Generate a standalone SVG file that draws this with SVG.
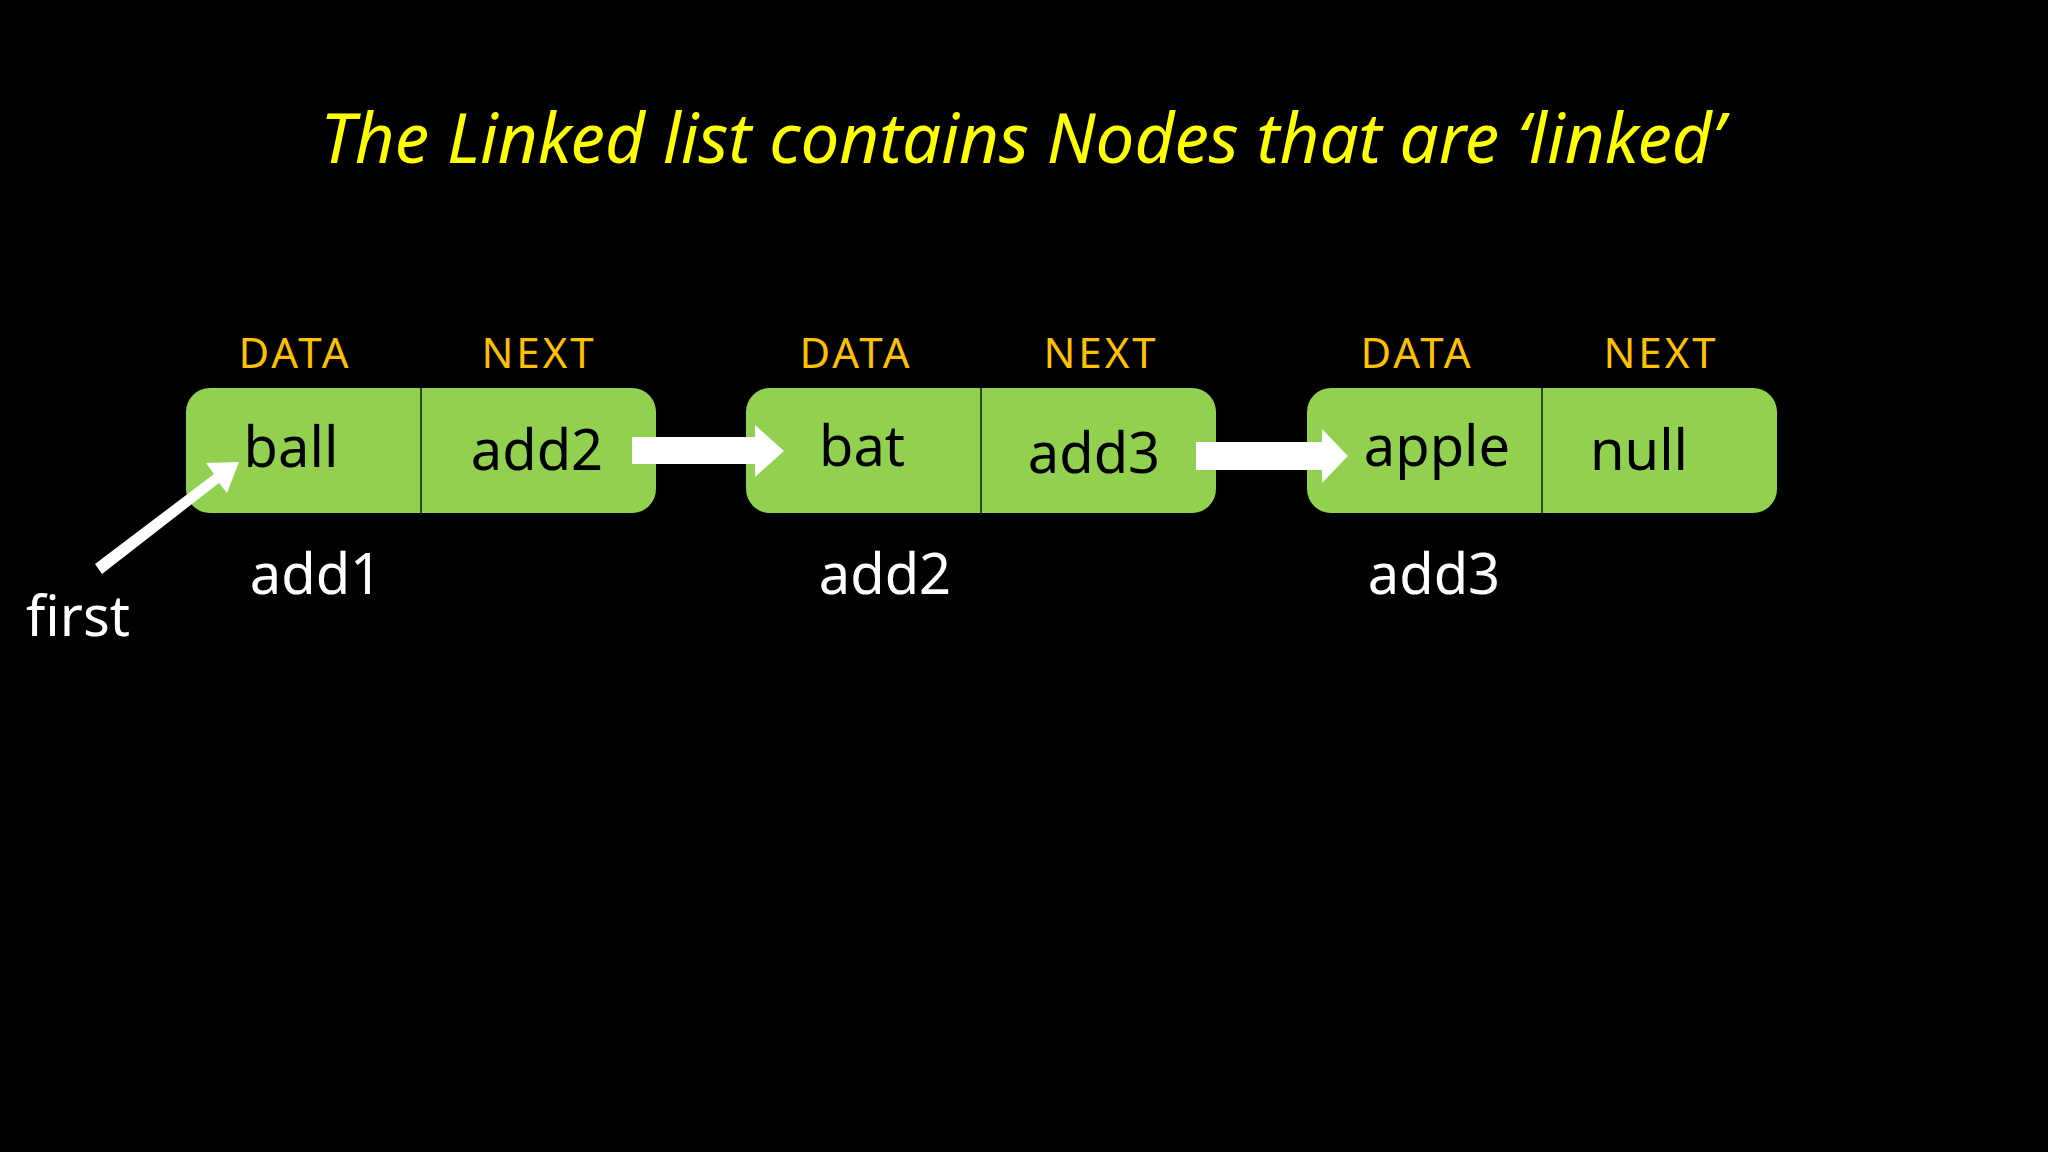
<svg xmlns="http://www.w3.org/2000/svg" width="2048" height="1152" viewBox="0 0 2048 1152">
<style>
.title{font-family:"Noto Sans",sans-serif;font-style:italic;font-size:69px;fill:#FFFF00;text-anchor:middle}
.hdr{font-family:"Noto Sans",sans-serif;font-size:42px;letter-spacing:3px;fill:#FFC000;text-anchor:middle}
.val{font-family:"Noto Sans",sans-serif;font-size:56px;fill:#000000;text-anchor:middle}
.addr{font-family:"Noto Sans",sans-serif;font-size:56px;fill:#FFFFFF;text-anchor:middle}
.box{fill:#92D050}
.div{stroke:#2E4A14;stroke-width:2}
.arrow{fill:#FFFFFF}
</style>
<rect width="2048" height="1152" fill="#000000"/>
<text class="title" x="1022" y="163">The Linked list contains Nodes that are ‘linked’</text>

<g id="node1">
<text class="hdr" x="295" y="368">DATA</text>
<text class="hdr" x="539" y="368">NEXT</text>
<rect class="box" x="186" y="388" width="470" height="125" rx="24"/>
<line class="div" x1="421" y1="388" x2="421" y2="513"/>
<text class="val" x="291" y="467">ball</text>
<text class="val" x="537" y="470">add2</text>
<text class="addr" x="316" y="594">add1</text>
</g>

<g id="node2">
<text class="hdr" x="856" y="368">DATA</text>
<text class="hdr" x="1101" y="368">NEXT</text>
<rect class="box" x="746" y="388" width="470" height="125" rx="24"/>
<line class="div" x1="981" y1="388" x2="981" y2="513"/>
<text class="val" x="862" y="466">bat</text>
<text class="val" x="1094" y="473">add3</text>
<text class="addr" x="885" y="594">add2</text>
</g>

<g id="node3">
<text class="hdr" x="1417" y="368">DATA</text>
<text class="hdr" x="1661" y="368">NEXT</text>
<rect class="box" x="1307" y="388" width="470" height="125" rx="24"/>
<line class="div" x1="1542" y1="388" x2="1542" y2="513"/>
<text class="val" x="1437" y="466">apple</text>
<text class="val" x="1639" y="470">null</text>
<text class="addr" x="1434" y="594">add3</text>
</g>

<g id="first">
<text class="addr" x="78" y="636">first</text>
</g>

<g id="connectors">
<polygon class="arrow" points="632,437 755,437 755,425 784,451 755,477 755,464 632,464"/>
<polygon class="arrow" points="1196,442 1322,442 1322,429 1348,456 1322,483 1322,470 1196,470"/>
<polygon class="arrow" points="95,564 214,474 206,463 239,462 227,493 219,483 102,574"/>
</g>
</svg>
